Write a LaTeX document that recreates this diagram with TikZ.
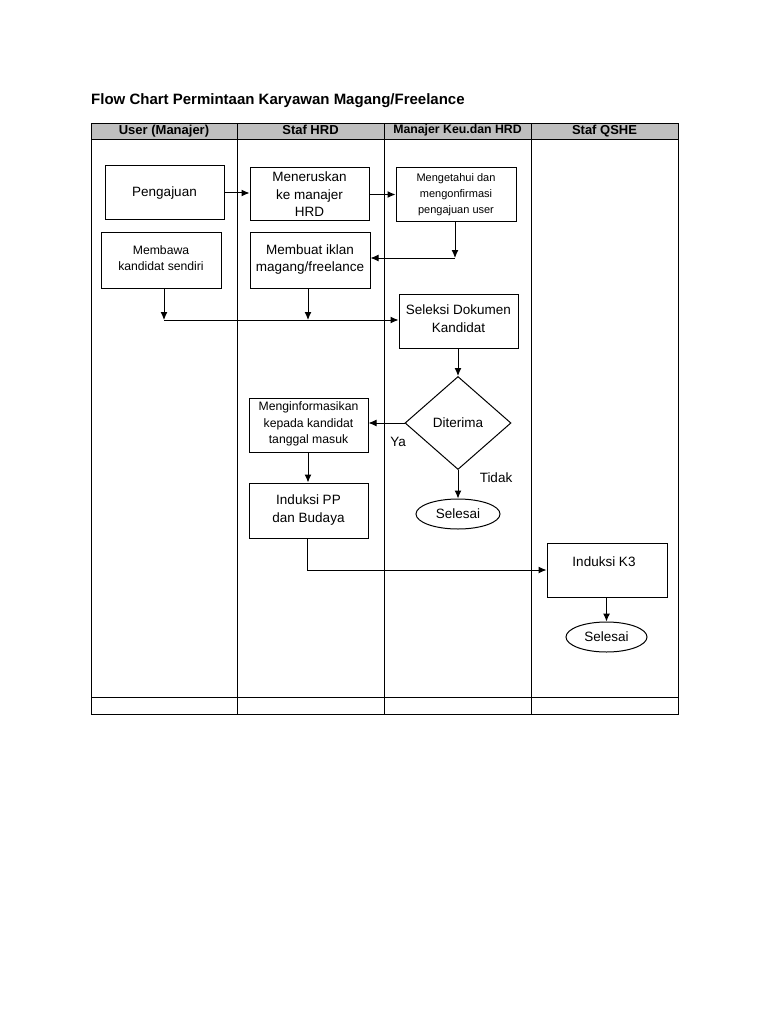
\documentclass[tikz,border=0pt]{standalone}
\usepackage{fontspec}
\setmainfont{Liberation Sans}
\usetikzlibrary{shapes.geometric,arrows.meta}
\begin{document}
\begin{tikzpicture}[x=1pt,y=-1pt,
  ln/.style={line width=1pt},
  bx/.style={draw,line width=1pt,inner sep=0pt,align=center,font=\fontsize{13.5}{17.5}\selectfont},
  sbx/.style={bx,font=\fontsize{11}{16}\selectfont},
  mbx/.style={bx,font=\fontsize{12.2}{16.5}\selectfont},
  term/.style={draw,ellipse,line width=1pt,inner sep=0pt,font=\fontsize{13.5}{16}\selectfont},
  arr/.style={line width=1pt,-{Latex[length=8pt,width=7pt]}},
  hd/.style={font=\bfseries\fontsize{13}{15}\selectfont,inner sep=0pt,anchor=base},
  lbl/.style={font=\fontsize{13.5}{16}\selectfont,inner sep=0pt}]
\fill[white] (0,0) rectangle (768,1024);
\useasboundingbox (0,0) rectangle (768,1024);
% title
\node[anchor=west,inner sep=0pt,font=\bfseries\fontsize{15}{18}\selectfont] (title) at (91,101) {Flow Chart Permintaan Karyawan Magang/Freelance};
% table
\fill[black!25] (91,124) rectangle (678,140);
\draw[ln] (91,124) rectangle (678,714);
\draw[ln] (91,140) -- (678,140);
\draw[ln] (91,697) -- (678,697);
\foreach \x in {237,384,531} \draw[ln] (\x,124) -- (\x,714);
\node[hd] (h1) at (164,135) {User (Manajer)};
\node[hd] (h2) at (310.5,135) {Staf HRD};
\node[hd,font=\bfseries\fontsize{12.3}{14}\selectfont] (h3) at (457.5,134) {Manajer Keu.dan HRD};
\node[hd] (h4) at (604.5,135) {Staf QSHE};
% boxes
\node[bx,minimum width=119pt,minimum height=54pt] (peng) at (164.5,193) {Pengajuan};
\node[bx,minimum width=119pt,minimum height=53pt] (mene) at (309.5,194.5) {Meneruskan\\ke manajer\\HRD};
\node[sbx,minimum width=120pt,minimum height=54pt] (meng) at (456,195) {Mengetahui dan\\mengonfirmasi\\pengajuan user};
\node[mbx,minimum width=120pt,minimum height=55pt,text depth=5pt] (memb) at (161,260.5) {Membawa\\kandidat sendiri};
\node[bx,minimum width=120pt,minimum height=55pt,text depth=5pt] (ikl) at (310,260.5) {Membuat iklan\\magang/freelance};
\node[bx,minimum width=119pt,minimum height=54pt,text depth=5pt] (sel) at (458.5,321) {Seleksi Dokumen\\Kandidat};
\node[draw,diamond,line width=1pt,inner sep=0pt,minimum width=106pt,minimum height=93pt,font=\fontsize{13.5}{16}\selectfont] (dit) at (458,423) {Diterima};
\node[mbx,minimum width=119pt,minimum height=54pt,text depth=4pt] (info) at (308.5,425) {Menginformasikan\\kepada kandidat\\tanggal masuk};
\node[bx,minimum width=119pt,minimum height=55pt,text depth=4pt] (indpp) at (308.5,510.5) {Induksi PP\\dan Budaya};
\node[term,minimum width=84pt,minimum height=30pt] (end1) at (458,514) {Selesai};
\node[bx,minimum width=120pt,minimum height=54pt] (k3) at (607,570) {};
\node[lbl] (k3t) at (604,562) {Induksi K3};
\node[term,minimum width=81pt,minimum height=30pt] (end2) at (606.5,637) {Selesai};
% connector points
\coordinate (c1) at (455,258);
\coordinate (c2) at (164,320);
\coordinate (c3) at (308,320);
\coordinate (c4) at (307,570);
% arrows
\draw[arr] (peng.east) -- (mene.west |- peng.east);
\draw[arr] (mene.east) -- (meng.west |- mene.east);
\draw[arr] (meng.south -| c1) -- (c1);
\draw[arr] (c1) -- (ikl.east |- c1);
\draw[arr] (memb.south -| c2) -- (c2);
\draw[arr] (ikl.south -| c3) -- (c3);
\draw[arr] (c2) -- (sel.west |- c2);
\draw[arr] (sel.south -| dit.north) -- (dit.north);
\draw[arr] (dit.west) -- (info.east |- dit.west);
\draw[arr] (dit.south) -- (end1.north);
\draw[arr] (info.south -| c3) -- (indpp.north -| c3);
\draw[ln] (indpp.south -| c4) -- (c4);
\draw[arr] (c4) -- (k3.west |- c4);
\draw[arr] (k3.south -| end2.north) -- (end2.north);
% labels
\node[lbl] (ya) at (398,442) {Ya};
\node[lbl] (tidak) at (496,478) {Tidak};
\end{tikzpicture}
\end{document}
